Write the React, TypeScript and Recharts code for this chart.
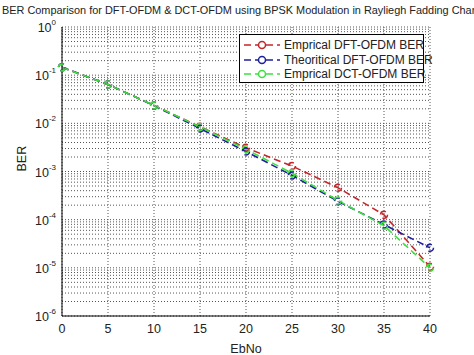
import React from "react";
import {
  LineChart,
  Line,
  XAxis,
  YAxis,
  CartesianGrid,
  ReferenceLine,
} from "recharts";

const ebno = [0, 5, 10, 15, 20, 25, 30, 35, 40];
const empDft = [0.145, 0.064, 0.0235, 0.0085, 0.0031, 0.0013, 0.00046, 0.000126, 0.0000105];
const theoDft = [0.146, 0.0643, 0.0233, 0.0078, 0.0026, 0.00083, 0.00024, 0.000079, 0.000026];
const empDct = [0.145, 0.064, 0.0235, 0.0084, 0.0029, 0.00092, 0.00025, 0.000075, 0.00001];
const yTicks = [1e-6, 1e-5, 1e-4, 1e-3, 1e-2, 1e-1, 1];
const yExps = ["-6", "-5", "-4", "-3", "-2", "-1", "0"];
const xTicks = [0, 5, 10, 15, 20, 25, 30, 35, 40];

const series = [
  { key: "empDft", name: "Emprical DFT-OFDM BER", color: "#c3272b" },
  { key: "theoDft", name: "Theoritical DFT-OFDM BER", color: "#1f1f9c" },
  { key: "empDct", name: "Emprical DCT-OFDM BER", color: "#3fe03f" },
];

const data = ebno.map((x, i) => ({
  x,
  empDft: empDft[i],
  theoDft: theoDft[i],
  empDct: empDct[i],
}));

// minor log grid lines (2..9 in every decade)
const minorTicks: number[] = [];
for (let d = -6; d < 0; d++) {
  for (let m = 2; m <= 9; m++) minorTicks.push(m * Math.pow(10, d));
}

const FONT = "'Liberation Sans', Arial, sans-serif";

function YTick(props: any) {
  const { x, y, payload } = props;
  const i = yTicks.indexOf(payload.value);
  return (
    <text x={x + 2} y={y + 5} textAnchor="end" fontSize={12.5} fill="#222" fontFamily={FONT}>
      10
      <tspan dy={-7} fontSize={8}>
        {yExps[i]}
      </tspan>
    </text>
  );
}

function LegendBox() {
  return (
    <div
      style={{
        position: "absolute",
        left: 239,
        top: 34,
        width: 185,
        height: 49,
        border: "1px solid #000",
        background: "#fff",
        fontFamily: FONT,
        fontSize: 12,
        color: "#222",
        boxSizing: "border-box",
        paddingTop: 3,
        whiteSpace: "nowrap",
      }}
    >
      {series.map((s) => (
        <div key={s.key} style={{ display: "flex", alignItems: "center", height: 14.5 }}>
          <svg width={44} height={12} style={{ flex: "none" }}>
            <line x1={4} y1={6} x2={40} y2={6} stroke={s.color} strokeWidth={1.6} strokeDasharray="7 4" />
            <circle cx={22} cy={6} r={3.5} fill="#fff" stroke={s.color} strokeWidth={1.5} />
          </svg>
          <span>{s.name}</span>
        </div>
      ))}
    </div>
  );
}

export default function App() {
  return (
    <div style={{ position: "absolute", left: 0, top: 0, width: 474, height: 355, background: "#fff", overflow: "hidden" }}>
      <div
        style={{
          position: "absolute",
          left: 2,
          top: 4,
          whiteSpace: "nowrap",
          fontFamily: FONT,
          fontSize: 10.9,
          color: "#222",
        }}
      >
        BER Comparison for DFT-OFDM &amp; DCT-OFDM using BPSK Modulation in Rayliegh Fadding Channel
      </div>
      <LineChart
        width={474}
        height={355}
        data={data}
        margin={{ top: 27, right: 44, bottom: 14, left: 22 }}
      >
        <CartesianGrid stroke="#555" strokeDasharray="1 2" />
        {minorTicks.map((v) => (
          <ReferenceLine key={v} y={v} stroke="#555" strokeDasharray="1 2" />
        ))}
        <XAxis
          dataKey="x"
          type="number"
          domain={[0, 40]}
          ticks={xTicks}
          height={25}
          tickLine={false}
          axisLine={{ stroke: "#000" }}
          tick={{ fontSize: 12.5, fill: "#222", fontFamily: FONT }}
          label={{ value: "EbNo", position: "insideBottom", offset: -12, fontSize: 12.5, fill: "#222", fontFamily: FONT }}
        />
        <XAxis
          xAxisId="top"
          dataKey="x"
          type="number"
          domain={[0, 40]}
          orientation="top"
          height={0}
          tick={false}
          tickLine={false}
          axisLine={{ stroke: "#000" }}
        />
        <YAxis
          scale="log"
          domain={[1e-6, 1]}
          ticks={yTicks}
          width={40}
          allowDataOverflow
          tickLine={false}
          axisLine={{ stroke: "#000" }}
          tick={<YTick />}
          label={{ value: "BER", angle: -90, position: "insideLeft", offset: 0, fontSize: 12.5, fill: "#222", fontFamily: FONT }}
        />
        <YAxis
          yAxisId="right"
          orientation="right"
          scale="log"
          domain={[1e-6, 1]}
          width={0}
          tick={false}
          tickLine={false}
          axisLine={{ stroke: "#000" }}
        />
        {series.map((s) => (
          <Line
            key={s.key}
            dataKey={s.key}
            name={s.name}
            stroke={s.color}
            strokeWidth={1.6}
            strokeDasharray="7 4"
            dot={{ r: 3.5, fill: "none", stroke: s.color, strokeWidth: 1.5 }}
            isAnimationActive={false}
          />
        ))}
      </LineChart>
      <LegendBox />
    </div>
  );
}
